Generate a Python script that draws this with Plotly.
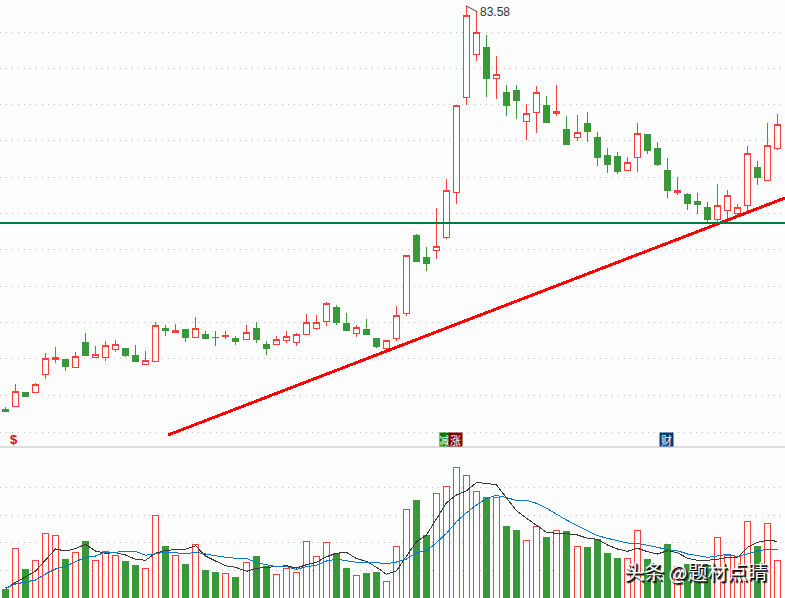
import plotly.graph_objects as go

# Daily price bars
opens = [2.98,3.44,6.38,6.24,9.84,12.84,12.98,11.24,16.38,13.24,13.24,14.84,15.18,13.78,11.84,12.44,19.18,18.24,18.98,17.24,
         17.98,17.38,17.44,17.18,16.84,19.18,15.98,15.84,16.64,16.24,17.84,19.04,20.44,23.38,20.18,18.04,18.98,17.18,15.04,17.04,
         22.04,37.78,33.38,34.64,37.32,46.24,65.24,73.92,75.38,69.18,66.38,66.78,60.44,62.24,63.78,62.18,58.98,57.24,60.18,57.38,
         53.78,53.58,50.64,53.24,57.98,55.18,50.78,46.32,45.98,44.58,43.38,40.84,42.64,42.04,43.64,51.38,48.64,55.18]
highs = [3.38,7.98,6.38,8.18,14.18,15.38,12.98,14.38,18.18,15.58,16.58,16.78,15.18,15.78,14.58,20.38,19.78,19.98,18.98,21.38,
         18.58,18.58,18.58,17.58,19.78,20.38,16.58,17.58,18.58,18.18,21.98,21.78,24.38,23.78,22.18,19.78,20.98,17.18,16.72,23.58,
         33.72,37.98,35.38,43.18,48.98,63.72,83.58,82.32,77.78,73.58,67.78,67.78,63.98,67.58,65.58,67.78,61.58,61.78,62.38,58.38,
         55.18,54.38,53.38,60.18,57.98,56.38,53.18,49.38,46.18,46.18,44.38,47.98,46.78,43.98,55.58,52.58,60.18,61.98]
lows = [2.58,3.44,5.58,6.24,8.98,12.18,10.58,11.24,13.58,13.24,12.58,14.38,13.38,12.58,11.84,12.44,17.58,18.24,16.38,17.24,
        17.18,15.58,16.98,15.78,16.84,16.18,13.78,15.84,16.18,15.64,17.84,18.78,19.58,19.78,18.78,17.38,17.98,15.18,14.64,16.58,
        21.58,32.38,30.58,32.98,36.98,43.98,63.78,72.58,65.38,64.98,61.58,60.98,56.78,58.18,60.38,61.58,55.78,56.58,56.38,51.58,
        50.18,49.98,50.64,50.38,53.98,51.58,45.18,45.78,42.78,41.98,40.38,40.38,40.38,41.18,42.18,47.78,48.64,54.78]
closes = [2.58,6.52,5.58,7.92,13.12,13.32,11.58,13.52,13.78,13.92,15.72,15.92,13.78,12.58,12.72,19.72,18.78,18.72,17.38,19.12,
          17.18,17.24,17.78,16.58,18.32,16.98,15.18,16.92,17.52,17.92,20.32,20.32,24.12,20.38,18.78,19.32,17.98,15.58,16.72,21.72,
          33.72,32.58,32.18,35.52,46.72,63.72,81.72,78.32,69.18,69.98,63.78,64.78,62.12,66.32,60.38,62.58,55.98,58.32,58.58,53.38,
          51.98,50.58,52.32,58.12,54.78,51.98,46.78,46.72,44.18,43.98,40.98,43.72,45.72,43.32,54.12,49.38,55.72,59.98]

# Daily turnover and its two moving averages
volumes = [900,4970,2900,3770,6470,6270,3900,4570,5700,3770,4670,4270,3700,3300,2970,8270,5200,4270,3400,5370,
           2800,2600,2470,2100,3570,4200,3200,2370,2970,2570,5670,4170,5570,4470,3000,2270,2500,2600,1670,5170,
           8870,9800,6300,10470,11170,13070,12270,10670,10100,10070,7200,6800,5770,7170,6100,6770,6700,5170,5100,5900,
           4500,4000,3970,6770,3900,3300,5400,3130,3400,3000,3300,6070,4270,4130,7670,5200,7470,3770]
vol_ma_fast = [870,1570,2100,2700,3800,4900,4700,4930,5370,4700,4470,4530,4300,3870,3770,4470,4770,4800,4870,5230,
               4200,3700,3230,3070,2670,2970,3070,3130,3230,3000,3330,3570,4130,4470,4570,3930,3670,3070,2370,2730,
               4130,5630,6300,7970,9530,10300,10730,11530,11470,11300,9970,8730,7970,7300,6570,6470,6430,6300,5970,5870,
               5300,4900,4670,4970,4630,4400,4730,4530,3970,3770,3770,3870,4070,4070,5070,5570,5770,5670]
vol_ma_slow = [1000,1400,1600,1800,2400,2900,3170,3600,4070,4200,4600,4570,4670,4670,4270,4430,4600,4530,4400,4570,
               4370,4230,4070,3970,3970,3530,3330,3130,3130,2870,3130,3270,3700,3870,3730,3570,3530,3530,3430,3600,
               3900,4530,4730,5530,6470,7630,8530,9300,9970,10270,10030,9770,9770,9470,8970,8370,7800,7230,6700,6230,
               5970,5700,5500,5470,5300,5070,4830,4730,4400,4200,4070,4200,4370,4130,4400,4700,4870,4870]

# Hand-drawn trend lines on the price pane
trend_x = [16.25, 77.95]
trend_y = [-2.22, 45.18]
support_x = [-0.55, 77.95]
support_y = [40.18, 40.18]

price_grid = [78.38,71.12,63.86,56.6,49.34,42.08,34.82,27.56,20.3,13.04,5.78,-1.62]
volume_grid = [2770,5570,8270,11070]

peak_label = "83.58"
peak_index = 46
peak_price = 83.58

RED = "#FA3E3E"
GREEN = "#38983A"
BG = "#FDFDFD"
GRID = "#BDBDBD"
# The session slots are laid out on whole pixels, so two of them sit a tenth of a slot later
days = [i + 0.1 * (i >= 24) + 0.1 * (i >= 57) for i in range(len(opens))]
up = [c >= o for o, c in zip(opens, closes)]

fig = go.Figure()
fig.add_trace(go.Bar(
    x=days, y=volumes, yaxis="y2", width=0.6,
    marker=dict(color=[BG if u else GREEN for u in up],
                line=dict(color=[RED if u else GREEN for u in up], width=1)),
))
fig.add_trace(go.Scatter(x=days, y=vol_ma_fast, yaxis="y2", mode="lines",
                         line=dict(color="#3A3A3A", width=1)))
fig.add_trace(go.Scatter(x=days, y=vol_ma_slow, yaxis="y2", mode="lines",
                         line=dict(color="#0A78D2", width=1)))
fig.add_trace(go.Candlestick(
    x=days, open=opens, high=highs, low=lows, close=closes,
    increasing=dict(line=dict(color=RED, width=1), fillcolor=BG),
    decreasing=dict(line=dict(color=GREEN, width=1), fillcolor=GREEN),
    whiskerwidth=0,
))
fig.add_trace(go.Scatter(x=trend_x, y=trend_y, mode="lines",
                         line=dict(color="#FF0000", width=3)))
fig.add_trace(go.Scatter(x=support_x, y=support_y, mode="lines",
                         line=dict(color="#007B3E", width=2)))


def tag(text, x, color, box_width=13):
    return dict(x=x, y=-3.12, text=text, showarrow=False, bgcolor=color, width=box_width, height=13,
                borderpad=0, font=dict(family="Noto Sans CJK SC", size=11, color="white"))


fig.update_layout(
    width=785, height=598, margin=dict(l=0, r=0, t=0, b=0),
    paper_bgcolor=BG, plot_bgcolor=BG, showlegend=False,
    boxmode="overlay", boxgap=0.4, boxgroupgap=0,
    xaxis=dict(range=[-0.55, 77.95], visible=False, rangeslider=dict(visible=False)),
    yaxis=dict(domain=[151/598, 1], range=[-4.62, 84.78], tickvals=price_grid, showticklabels=False,
               showgrid=True, gridcolor=GRID, griddash="1px,5px", gridwidth=1, zeroline=False, ticks=""),
    yaxis2=dict(domain=[0, 151/598], range=[0, 15100], tickvals=volume_grid, showticklabels=False,
                showgrid=True, gridcolor=GRID, griddash="1px,5px", gridwidth=1, zeroline=False, ticks=""),
    shapes=[dict(type="line", xref="paper", yref="paper", x0=0, x1=1, y0=151/598, y1=151/598,
                 line=dict(color="#BEBEBE", width=1))],
    annotations=[
        dict(x=days[peak_index], y=peak_price, text=peak_label, xanchor="left", yanchor="middle",
             ax=11, ay=6, showarrow=True, arrowhead=0, arrowwidth=1, arrowcolor="#444444",
             font=dict(family="Liberation Sans", size=12, color="#333333")),
        dict(x=0.85, y=-3.12, text="<b>$</b>", showarrow=False,
             font=dict(family="Liberation Sans", size=13, color="#F00000")),
        tag("减", 43.9, "#007A00", 9),
        tag("涨", 45.0, "#7F0000"),
        tag("财", 66.1, "#003B7A"),
        dict(xref="paper", yref="paper", x=695.5/785, y=(598-571)/598, xanchor="center", yanchor="middle",
             text="头条 @题材点睛", showarrow=False,
             font=dict(family="Noto Sans CJK SC", size=20, color="white",
                       shadow="1px 1px 0 #000, 2px 2px 1px #222")),
    ],
)

# Keep candles, lines and grid dots on whole pixels, without anti-aliasing
crisp = """
document.querySelectorAll('.boxlayer path, .scatterlayer path, .gridlayer path, .barlayer path')
  .forEach(function (p) { p.style.shapeRendering = 'crispEdges'; });
"""
fig.write_html("out.html", post_script=crisp)
